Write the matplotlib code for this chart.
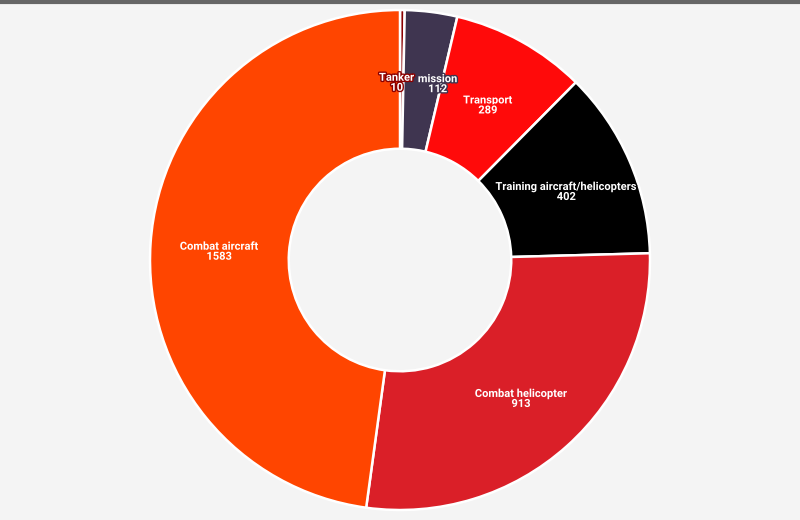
import matplotlib.pyplot as plt
import matplotlib.patheffects as pe
import numpy as np

categories = ['Tanker', 'mission', 'Transport', 'Training aircraft/helicopters',
              'Combat helicopter', 'Combat aircraft']
values = [10, 112, 289, 402, 913, 1583]
colors = ['#8b0000', '#3f3550', '#ff0a0a', '#000000', '#da1f28', '#ff4500']

bg = '#f4f4f4'
fig = plt.figure(figsize=(8, 5.2), dpi=100, facecolor=bg)
ax = fig.add_axes([0, 0, 1, 1])
ax.set_facecolor(bg)

wedges, _ = ax.pie(values, colors=colors, startangle=90, counterclock=False,
                   radius=1.0,
                   wedgeprops=dict(width=0.555, edgecolor='white', linewidth=1.8,
                                   joinstyle='round'))

# labels in the middle of the ring, white text with outline in slice colour
total = sum(values)
angle = 90.0
r_mid = 0.725
for name, val, col in zip(categories, values, colors):
    span = val / total * 360
    mid = np.deg2rad(angle - span / 2)
    angle -= span
    x, y = r_mid * np.cos(mid), r_mid * np.sin(mid) - 0.016
    if name == 'Tanker':
        x -= 0.02
    if name == 'mission':
        x += 0.06
    ax.text(x, y, f'{name}\n{val}', ha='center', va='center', color='white',
            fontsize=8, fontweight='bold', family='Roboto', linespacing=1.0,
            path_effects=[pe.withStroke(linewidth=2, foreground=col)])

ax.set_xlim(-400 / 250, 400 / 250)
ax.set_ylim(-1.04, 1.04)
ax.set_aspect('equal')
ax.axis('off')

# thin dark strip at the top edge
fig.add_artist(plt.Line2D([0, 1], [0.997, 0.997], color='#666666', linewidth=3,
                          transform=fig.transFigure))

fig.savefig('out.png', dpi=100, facecolor=bg)
